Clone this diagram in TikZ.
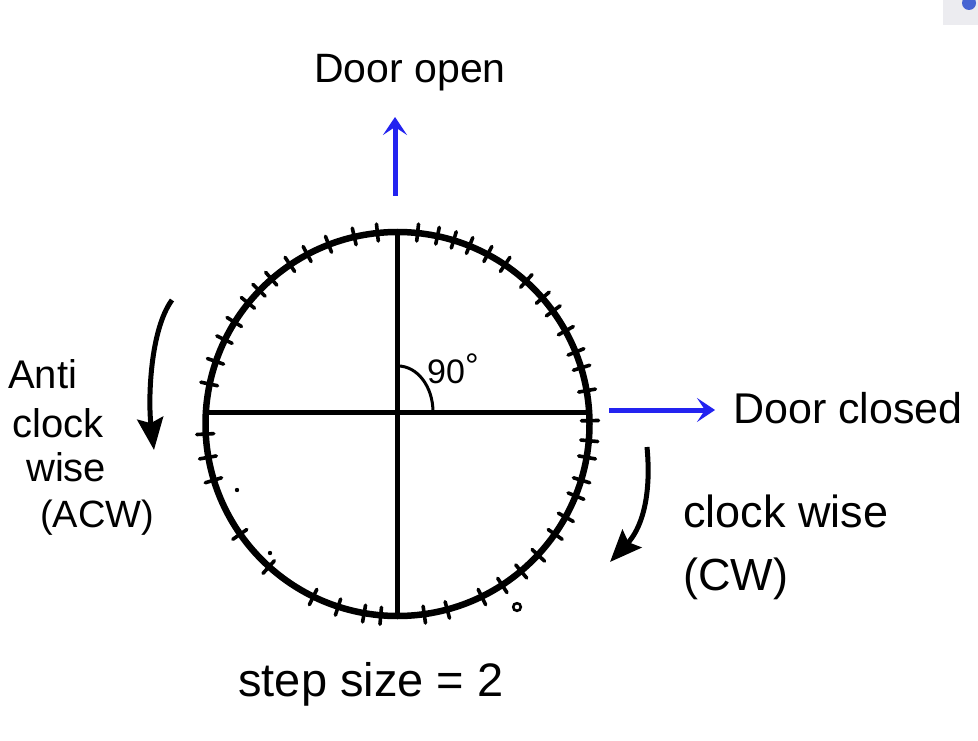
\documentclass[tikz,border=0pt]{standalone}
\usepackage{fontspec}
\setmainfont{Liberation Sans}
\usetikzlibrary{arrows.meta}
\definecolor{penblue}{RGB}{35,35,240}
\definecolor{boxgray}{RGB}{236,236,240}
\definecolor{iconblue}{RGB}{70,100,210}
\begin{document}
\begin{tikzpicture}[x=1pt,y=-1pt,
  hand/.style={font=\fontsize{41}{48}\selectfont, inner sep=0pt},
  ink/.style={line width=5pt, line cap=round},
  tickmark/.style={line width=3.6pt, line cap=round},
  bluearrow/.style={draw=penblue, line width=5pt, -{Stealth[length=18pt,width=24pt,inset=8pt]}},
  blackarrow/.style={line width=5pt, -{Stealth[length=32pt,width=26pt,inset=5pt]}}]
\useasboundingbox (0,0) rectangle (978,741);
\fill[white] (0,0) rectangle (978,741);
% corner artefact
\begin{scope}
\clip (943,0) rectangle (978,25);
\fill[boxgray] (943,0) rectangle (978,25);
\fill[iconblue] (969,3) circle[radius=7pt];
\end{scope}
% circle and axes
\coordinate (C) at (397.5,424);
\coordinate (O) at (397.5,412);
\coordinate (top) at (397,232);
\coordinate (bot) at (397,616);
\coordinate (lft) at (206,412);
\coordinate (rgt) at (589,412);
\draw[line width=6.5pt] (C) circle[radius=192pt];
\draw[ink] (top) -- (bot);
\draw[ink] (lft) -- (rgt);
\foreach \a in {96,103,111,118,124,131,136,141,148,154,161,168,
                84,78,73,68,62,56,48,41,36,29,22,17,10,1,
                -5,-10,-17,-22,-29,-35,-43,-50,-57,-64,-75,-82,
                183,190,197,215,228,244,252,260,265}
  \draw[tickmark, shift={(C)}] (\a:184pt) -- (\a:201pt);
% small marks
\fill (237,490) circle[radius=2.2pt];
\fill (270,553) circle[radius=2.2pt];
\draw[line width=2.6pt] (517,607) circle[radius=3.8pt];
% angle
\draw[line width=3pt] (398,366) arc[start angle=90,end angle=0,x radius=35pt,y radius=46pt];
\node[hand, font=\fontsize{34}{36}\selectfont, anchor=base west] (deg) at (427,383) {90\raisebox{6pt}{°}};
% blue arrows and labels
\node[hand, anchor=base] (open) at (410,83) {Door open};
\coordinate (upS) at (395,196);
\coordinate (upE) at (395,117);
\draw[bluearrow] (upS) -- (upE);
\node[hand, font=\fontsize{43}{48}\selectfont, anchor=base west] (closed) at (733,423) {Door closed};
\coordinate (rS) at (609,410);
\coordinate (rE) at (715,410);
\draw[bluearrow] (rS) -- (rE);
% clockwise
\node[hand, font=\fontsize{45}{50}\selectfont, anchor=base west] (cw1) at (683,527) {clock wise};
\node[hand, font=\fontsize{45}{50}\selectfont, anchor=base west] (cw2) at (683,590) {(CW)};
\coordinate (cwS) at (647,447);
\coordinate (cwE) at (610,562);
\draw[blackarrow] (cwS) .. controls (652,500) and (640,530) .. (cwE);
% anticlockwise
\node[hand, font=\fontsize{40}{44}\selectfont, anchor=base west] (anti) at (8,388) {Anti};
\node[hand, font=\fontsize{40}{44}\selectfont, anchor=base west] (clock) at (12,437) {clock};
\node[hand, font=\fontsize{40}{44}\selectfont, anchor=base west] (wise) at (26,481) {wise};
\node[hand, font=\fontsize{38}{44}\selectfont, anchor=base west] (acw) at (40,527) {(ACW)};
\coordinate (acwS) at (172,300);
\coordinate (acwE) at (154,450);
\draw[blackarrow] (acwS) .. controls (150,330) and (148,400) .. (acwE);
% step size
\node[hand, font=\fontsize{47}{52}\selectfont, anchor=base] (step) at (371,696) {step size = 2};
\end{tikzpicture}
\end{document}
